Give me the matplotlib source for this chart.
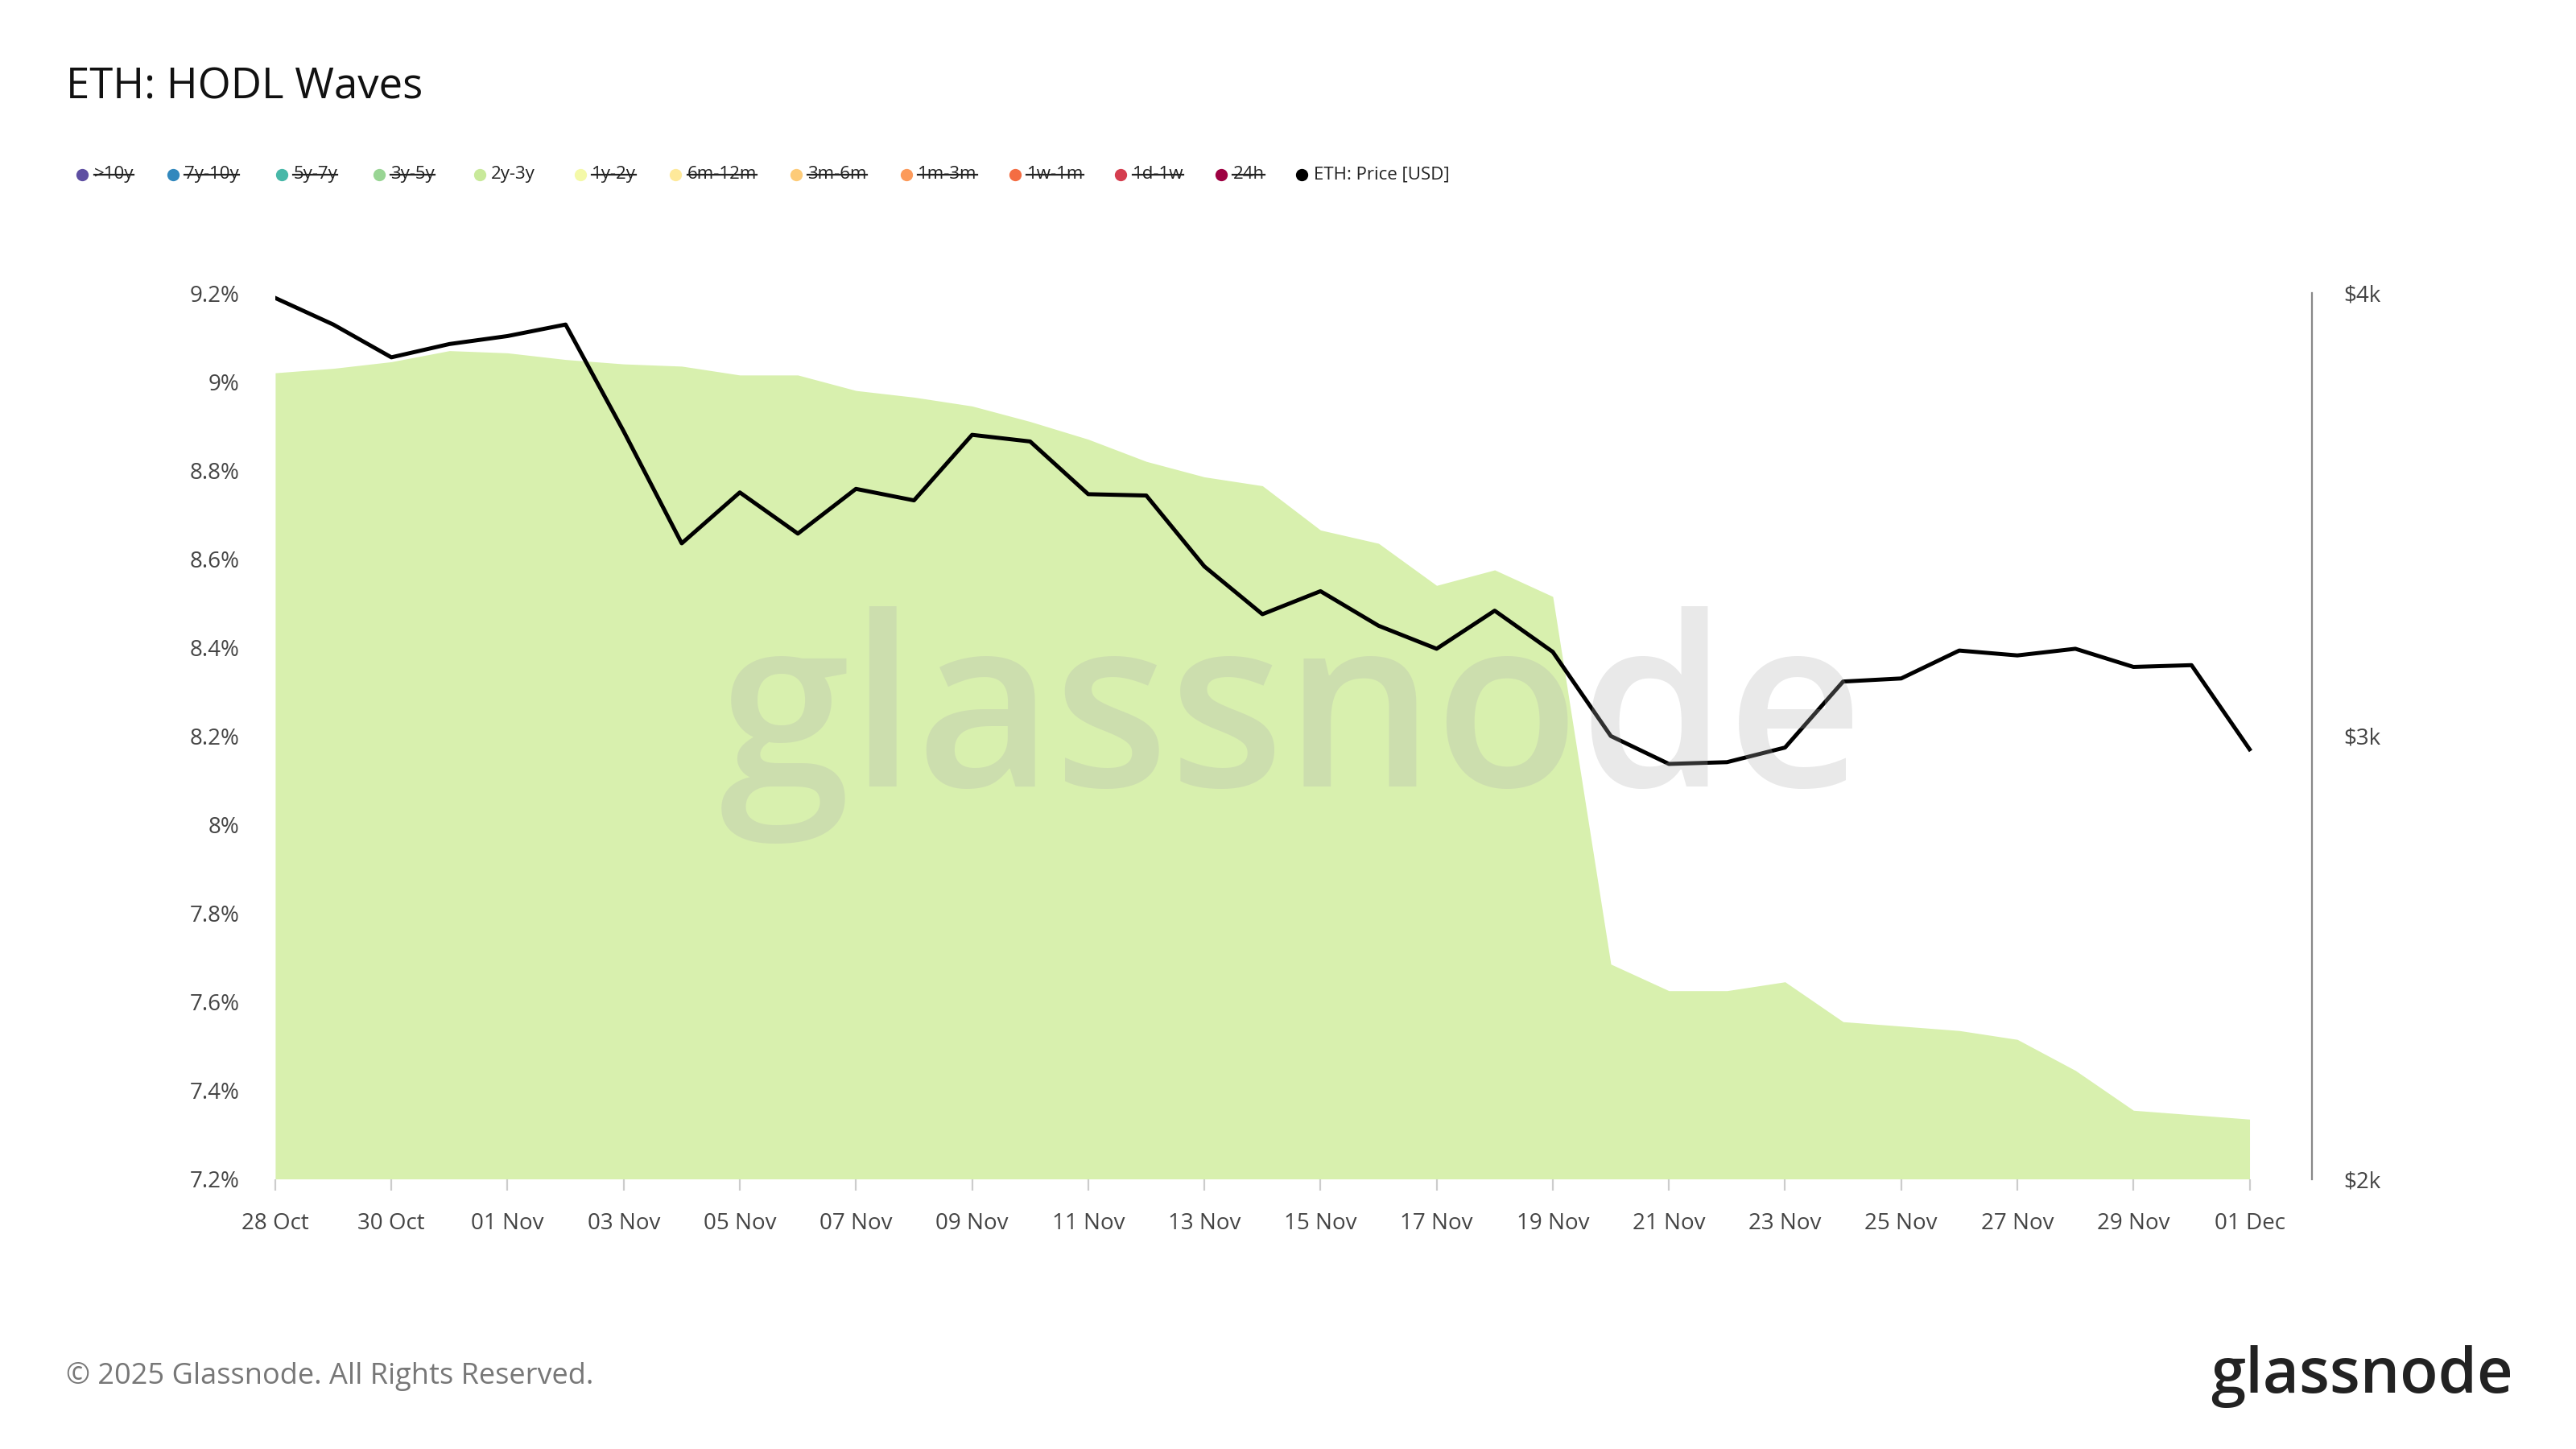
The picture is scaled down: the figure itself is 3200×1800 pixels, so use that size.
import numpy as np
import pandas as pd
import matplotlib
matplotlib.use('Agg')
import matplotlib.pyplot as plt
from matplotlib.lines import Line2D

plt.rcParams['font.family'] = ['Open Sans', 'DejaVu Sans']

dates = pd.date_range('2025-10-28', '2025-12-01', freq='D')
hodl_2y3y = [9.02, 9.03, 9.045, 9.07, 9.065, 9.05, 9.04, 9.035, 9.015, 9.015,
             8.98, 8.965, 8.945, 8.91, 8.87, 8.82, 8.785, 8.765, 8.665, 8.635,
             8.54, 8.575, 8.515, 7.685, 7.625, 7.625, 7.645, 7.555, 7.545, 7.535,
             7.515, 7.445, 7.355, 7.345, 7.335]
price = [3989, 3929, 3855, 3885, 3903, 3929, 3688, 3435, 3550, 3457,
         3558, 3532, 3680, 3665, 3546, 3543, 3383, 3275, 3327, 3249,
         3197, 3283, 3190, 3000, 2937, 2941, 2974, 3123, 3130, 3193,
         3182, 3197, 3156, 3160, 2970]

legend_names = ['>10y', '7y-10y', '5y-7y', '3y-5y', '2y-3y', '1y-2y', '6m-12m',
                '3m-6m', '1m-3m', '1w-1m', '1d-1w', '24h', 'ETH: Price [USD]']
legend_colors = ['#5e4fa2', '#3288bd', '#48b8a8', '#99d594', '#c8e99a', '#f4f9a8',
                 '#fee99a', '#fdcb78', '#fc9a5a', '#f46d43', '#d53e4f', '#9e0142', '#000000']
legend_active = ['2y-3y', 'ETH: Price [USD]']
legend_x = [50, 105, 171, 230, 291, 352, 410, 483, 550, 616, 680, 741, 790]

W, H = 1563, 880
fig = plt.figure(figsize=(16, 9), dpi=200)
ax = fig.add_axes([167 / W, 1 - 716 / H, (1403 - 167) / W, (716 - 178) / H])

ax.fill_between(dates, 7.2, hodl_2y3y, color='#d8f0ae', lw=0, zorder=1)
ax.set_ylim(7.2, 9.2)
ax.set_xlim(dates[0], dates[0] + pd.Timedelta(days=35.08))
yt = np.round(np.arange(7.2, 9.21, 0.2), 1)
ax.set_yticks(yt)
ax.set_yticklabels([f'{v:g}%' for v in yt])
ticks = [d for i, d in enumerate(dates) if i % 2 == 0]
ax.set_xticks(ticks)
ax.set_xticklabels([d.strftime('%d %b') for d in ticks])
for s in ax.spines.values():
    s.set_visible(False)
ax.tick_params(axis='both', colors='#444444', labelsize=10, length=0)
ax.tick_params(axis='x', length=5, color='#cccccc', pad=10)
ax.tick_params(axis='y', pad=16)

ax2 = ax.twinx()
ax2.plot(dates, price, color='black', lw=1.8, zorder=3)
ax2.set_ylim(2000, 4000)
ax2.set_yticks([2000, 3000, 4000])
ax2.set_yticklabels(['$2k', '$3k', '$4k'])
for s in ['top', 'left', 'bottom']:
    ax2.spines[s].set_visible(False)
ax2.spines['right'].set_color('#888888')
ax2.tick_params(axis='y', colors='#444444', labelsize=10, length=0, pad=14)

# watermark
fig.text((437 + 1130) / 2 / W, 1 - 440 / H, 'glassnode', fontsize=106, color='#b0b0b0',
         alpha=0.28, ha='center', va='center', fontweight='semibold', zorder=0)

fig.text(40 / W, 1 - 53 / H, 'ETH: HODL Waves', fontsize=19, va='center', color='#111111')

fig.canvas.draw()
r = fig.canvas.get_renderer()
for name, col, lx in zip(legend_names, legend_colors, legend_x):
    y = 1 - 106 / H
    fig.add_artist(Line2D([lx / W], [y], marker='o', ms=4.5, color=col, lw=0,
                          transform=fig.transFigure))
    t = fig.text((lx + 7) / W, y, name, fontsize=8, va='center', color='#222222')
    if name not in legend_active:
        bb = t.get_window_extent(r).transformed(fig.transFigure.inverted())
        fig.add_artist(Line2D([bb.x0, bb.x1], [y, y], color='#222222', lw=0.8,
                              transform=fig.transFigure))

fig.text(40 / W, 1 - 836 / H, '\u00a9 2025 Glassnode. All Rights Reserved.', fontsize=13,
         color='#777777', va='center')
fig.text(1525 / W, 1 - 836 / H, 'glassnode', fontsize=28, color='#222222', ha='right',
         va='center', fontweight='semibold')

fig.savefig('out.png', dpi=200, facecolor='white')
